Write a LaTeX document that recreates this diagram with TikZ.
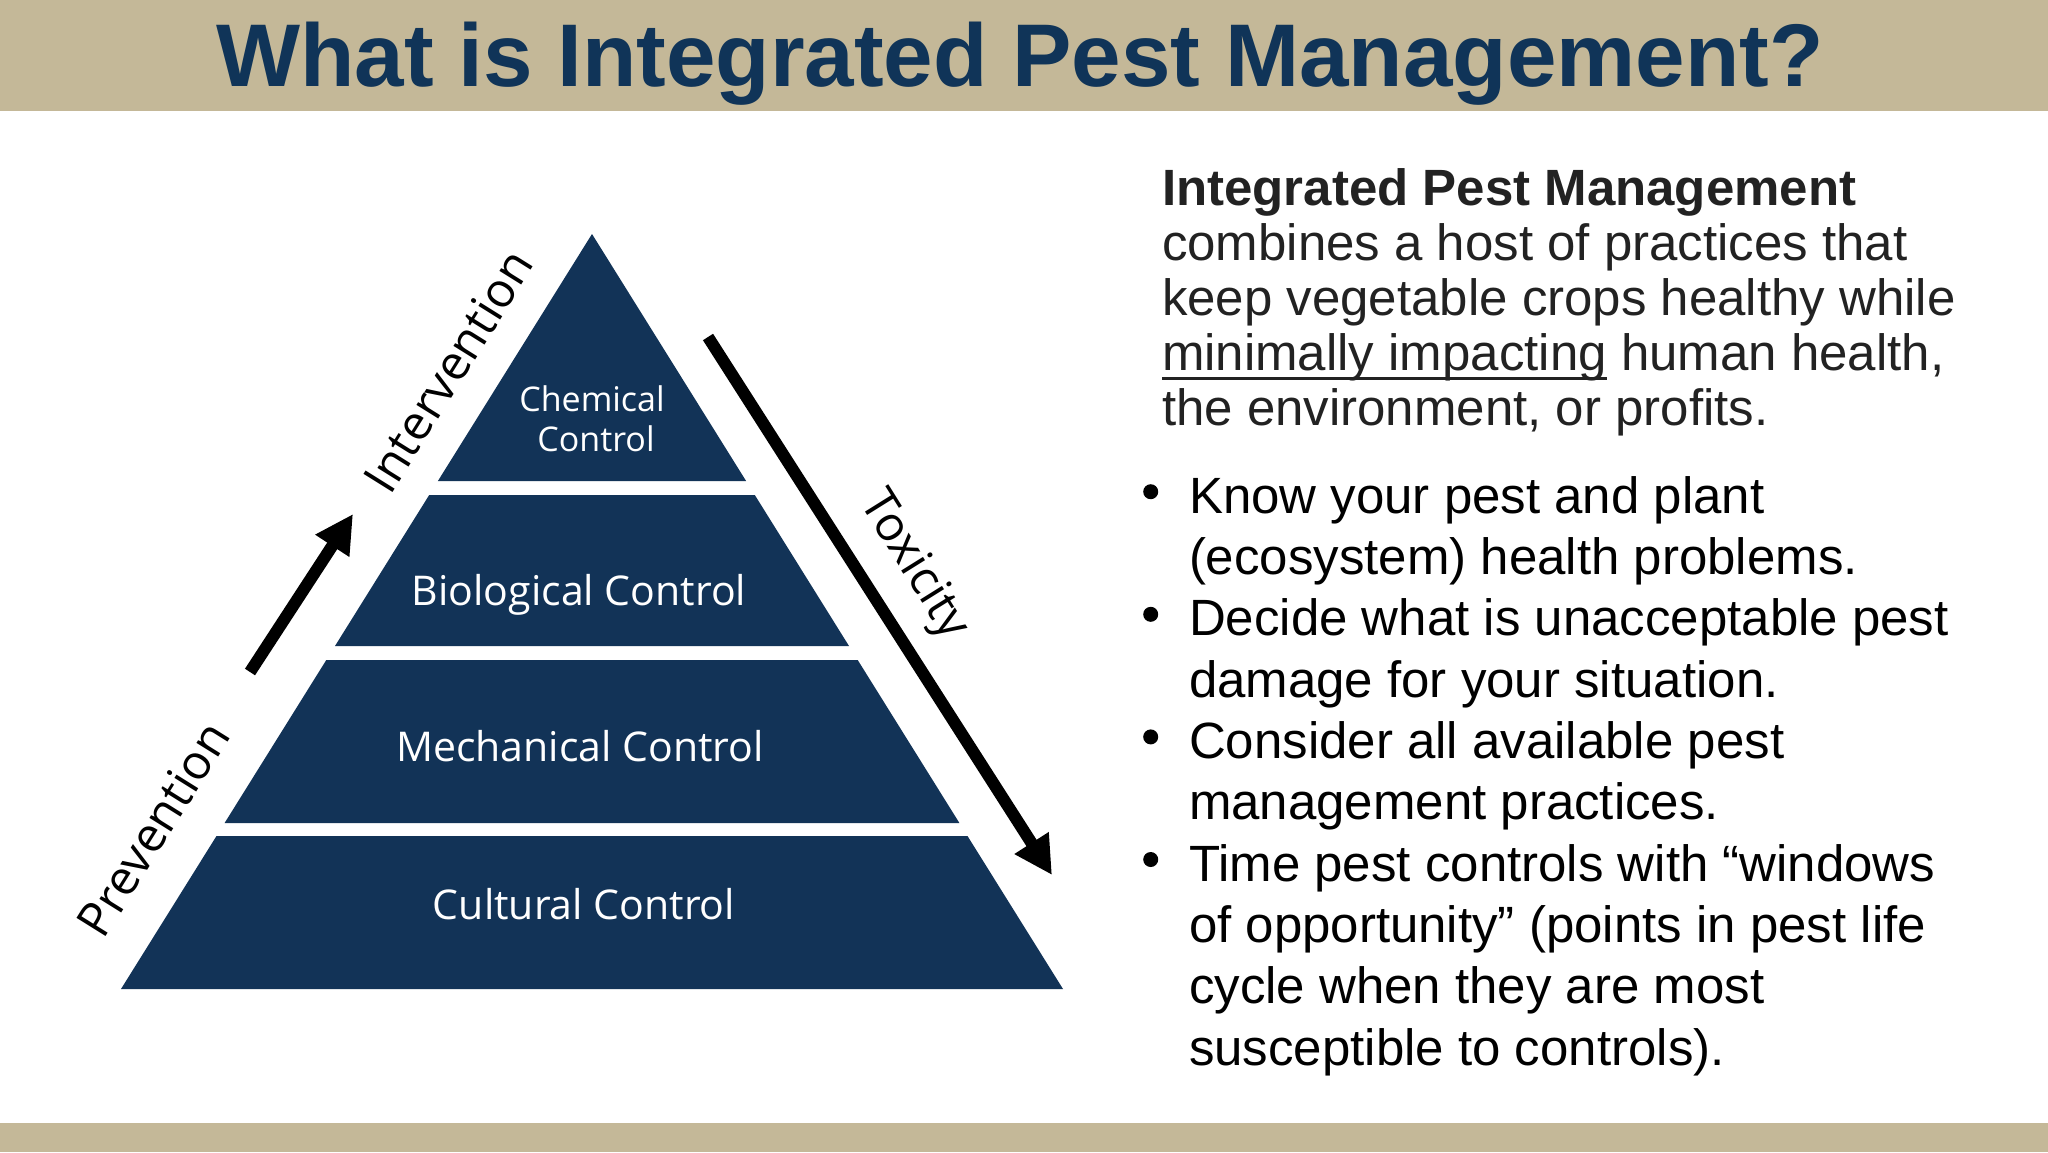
\documentclass[tikz,border=0pt]{standalone}
\usepackage{fontspec}
\setmainfont{Liberation Sans}
\newfontfamily\pyrfont{Open Sans}
\usetikzlibrary{arrows.meta}
\definecolor{band}{RGB}{196,184,152}
\definecolor{navy}{RGB}{18,51,87}
\definecolor{titleblue}{RGB}{16,52,88}
\definecolor{paratext}{RGB}{34,34,34}
\newcommand\myunderline[1]{\setbox0\hbox{#1}\rlap{\rule[-10pt]{\wd0}{2.6pt}}\box0\relax}
\begin{document}
\begin{tikzpicture}[x=1pt,y=-1pt,
  txt/.style={inner sep=0pt,outer sep=0pt},
  tier/.style={fill=navy},
  pyrlabel/.style={txt,text=white,font=\pyrfont\fontsize{41}{48}\selectfont,anchor=base},
  chemlabel/.style={txt,text=white,font=\pyrfont\fontsize{34}{40}\selectfont,anchor=base},
  sidelabel/.style={txt,text=black,font=\pyrfont\fontsize{48}{55}\selectfont},
  para/.style={txt,anchor=base west,text=paratext,font=\fontsize{51}{55}\selectfont},
  blt/.style={txt,anchor=base west,text=black,font=\fontsize{51}{61}\selectfont},
  bdot/.style={fill=black},
  bigarrow/.style={line width=12pt,-{Triangle[length=38pt,width=38pt]}},
]
\useasboundingbox (0,0) rectangle (2048,1152);
\fill[white] (0,0) rectangle (2048,1152);
\fill[band] (0,0) rectangle (2048,111);
\fill[band] (0,1123) rectangle (2048,1152);
\node[txt,anchor=base,text=titleblue,font=\bfseries\fontsize{89}{100}\selectfont] (title) at (1020,86) {What is Integrated Pest Management?};

% pyramid tiers
\fill[tier] (592,234) -- (746.1,481) -- (437.9,481) -- cycle;
\fill[tier] (429.2,495) -- (754.8,495) -- (849,646) -- (335,646) -- cycle;
\fill[tier] (326.3,660) -- (857.7,660) -- (959.4,823) -- (224.6,823) -- cycle;
\fill[tier] (216.5,836) -- (967.5,836) -- (1063,989) -- (121,989) -- cycle;

\node[chemlabel] (chem1) at (592,411.7) {Chemical};
\node[chemlabel] (chem2) at (596,451.7) {Control};
\node[pyrlabel] (bio) at (579,605) {Biological Control};
\node[pyrlabel] (mech) at (580,761) {Mechanical Control};
\node[pyrlabel] (cult) at (584,919) {Cultural Control};

% side labels
\node[sidelabel,rotate=58] (interv) at (448,371) {Intervention};
\node[sidelabel,rotate=58] (prev) at (153,829) {Prevention};
\node[sidelabel,rotate=-58] (tox) at (913,566) {Toxicity};

% arrows
\coordinate (upS) at (250,672);
\coordinate (upE) at (353,514);
\coordinate (dnS) at (708,337);
\coordinate (dnE) at (1052,875);
\draw[bigarrow] (upS) -- (upE);
\draw[bigarrow] (dnS) -- (dnE);

% paragraph
\node[para] (p1) at (1162,205) {\bfseries Integrated Pest Management};
\node[para] (p2) at (1162,260) {combines a host of practices that};
\node[para] (p3) at (1162,315) {keep vegetable crops healthy while};
\node[para] (p4) at (1162,370) {\myunderline{minimally impacting} human health,};
\node[para] (p5) at (1162,425) {the environment, or profits.};

% bullets
\fill[bdot] (1150.7,491.7) circle (7.5);
\fill[bdot] (1150.7,614.3) circle (7.5);
\fill[bdot] (1150.7,736.9) circle (7.5);
\fill[bdot] (1150.7,859.5) circle (7.5);
\node[blt] (b0) at (1189,513.3) {Know your pest and plant};
\node[blt] (b1) at (1189,574.6) {(ecosystem) health problems.};
\node[blt] (b2) at (1189,635.9) {Decide what is unacceptable pest};
\node[blt] (b3) at (1189,697.2) {damage for your situation.};
\node[blt] (b4) at (1189,758.5) {Consider all available pest};
\node[blt] (b5) at (1189,819.8) {management practices.};
\node[blt] (b6) at (1189,881.1) {Time pest controls with “windows};
\node[blt] (b7) at (1189,942.4) {of opportunity” (points in pest life};
\node[blt] (b8) at (1189,1003.7) {cycle when they are most};
\node[blt] (b9) at (1189,1065.0) {susceptible to controls).};
\end{tikzpicture}
\end{document}
